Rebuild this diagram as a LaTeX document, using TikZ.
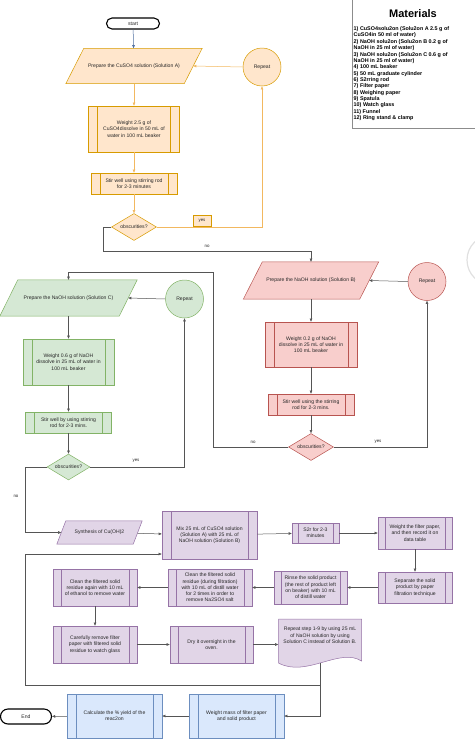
\documentclass[tikz,border=0pt]{standalone}
\usepackage{fontspec}
\setmainfont{Liberation Sans}
\usetikzlibrary{shapes.geometric,shapes.misc,arrows.meta,backgrounds}
\definecolor{oF}{HTML}{FFE6CC}\definecolor{oD}{HTML}{D79B00}\definecolor{oL}{HTML}{F2B860}
\definecolor{pF}{HTML}{F8CECC}\definecolor{pD}{HTML}{B85450}
\definecolor{gF}{HTML}{D5E8D4}\definecolor{gD}{HTML}{82B366}
\definecolor{uF}{HTML}{E1D5E7}\definecolor{uD}{HTML}{9673A6}
\definecolor{bF}{HTML}{DAE8FC}\definecolor{bD}{HTML}{6C8EBF}
\definecolor{lnG}{HTML}{555555}\definecolor{stB}{HTML}{4F6F9F}
\tikzset{
  txt/.style={font=\fontsize{5.1}{6.3}\selectfont, align=center, inner sep=1pt, text=black!85},
  proc/.style 2 args={rectangle, txt, fill=#1F, draw=#1D, line width=0.5pt,
    path picture={\draw[#1D, line width=0.5pt]
      ([xshift=#2]path picture bounding box.north west) -- ([xshift=#2]path picture bounding box.south west)
      ([xshift=-#2]path picture bounding box.north east) -- ([xshift=-#2]path picture bounding box.south east);}},
  para/.style={rectangle, txt},
  rep/.style={circle, txt, fill=#1F, draw=#1D, line width=0.5pt, minimum size=38pt},
  dec/.style={diamond, aspect=1.7, txt, inner sep=0pt, fill=#1F, draw=#1D, line width=0.5pt,
    minimum width=45pt, minimum height=27pt},
  term/.style={rounded rectangle, txt, draw=black, line width=1.1pt, fill=white},
  cn/.style={draw=#1, line width=0.5pt, -{Triangle[length=3.2pt,width=2.6pt,fill=#1]}},
  cn/.default=lnG,
  lab/.style={txt, font=\fontsize{4.4}{5}\selectfont},
}
% parallelogram drawn behind a named node: node, half slant, colour prefix
\newcommand\parashape[3]{\begin{scope}[on background layer]
  \draw[fill=#3F, draw=#3D, line width=0.5pt] ([xshift=#2]#1.north west) -- ([xshift=#2]#1.north east)
    -- ([xshift=-#2]#1.south east) -- ([xshift=-#2]#1.south west) -- cycle;\end{scope}}
\begin{document}
\begin{tikzpicture}[x=1pt,y=-1pt]
\useasboundingbox (0,0) rectangle (474,739);

% screenshot artifact at right edge
\draw[black!12, line width=1.2pt] (492,260) circle (25pt);

% Materials
\draw[black!45, line width=0.6pt] (352,-2) rectangle (477,128);
\node[font=\bfseries\fontsize{11}{12}\selectfont] (mt) at (413,14) {Materials};
\node[anchor=north west, inner sep=0pt, align=left, font=\bfseries\fontsize{5.4}{6.35}\selectfont] (ml) at (353.5,26.5)
{1) CuSO4solu2on (Solu2on A 2.5 g of\\CuSO4in 50 ml of water)\\2) NaOH solu2on (Solu2on B 0.2 g of\\NaOH in 25 ml of water)\\3) NaOH solu2on (Solu2on C 0.6 g of\\NaOH in 25 ml of water)\\4) 100 mL beaker\\5) 50 mL graduate cylinder\\6) S2rring rod\\7) Filter paper\\8) Weighing paper\\9) Spatula\\10) Watch glass\\11) Funnel\\12) Ring stand \& clamp};

% ---------- nodes
\node[term, minimum width=55pt, minimum height=11pt] (start) at (133,23.5) {start};
\node[para, minimum width=118pt, minimum height=35pt] (pA) at (134,66) {Prepare the CuSO4 solution (Solution A)};
\parashape{pA}{9pt}{o}
\node[rep=o] (rA) at (262,67) {Repeat};
\node[proc={o}{9pt}, minimum width=91pt, minimum height=46pt] (wA) at (134,129) {Weight 2.5 g of\\CuSO4dissolve in 50 mL of\\water in 100 mL beaker};
\node[proc={o}{9pt}, minimum width=86pt, minimum height=21pt] (sA) at (134,183.5) {Stir well using stirring rod\\for 2-3 minutes};
\node[dec=o] (dA) at (134,227) {obscurities?};

\node[para, minimum width=116pt, minimum height=37pt] (pB) at (311,280.5) {Prepare the NaOH solution (Solution B)};
\parashape{pB}{9.5pt}{p}
\node[rep=p] (rB) at (427,281.5) {Repeat};
\node[proc={p}{9pt}, minimum width=92pt, minimum height=45pt] (wB) at (311,344.5) {Weight 0.2 g of NaOH\\dissolve in 25 mL of water in\\100 mL beaker};
\node[proc={p}{9pt}, minimum width=86pt, minimum height=21pt] (sB) at (311,404.5) {Stir well using the stirring\\rod for 2-3 mins.};
\node[dec=p] (dB) at (311,447) {obscurities?};

\node[para, minimum width=119pt, minimum height=36pt] (pC) at (68.5,298) {Prepare the NaOH solution (Solution C)};
\parashape{pC}{9pt}{g}
\node[rep=g] (rC) at (184.5,299) {Repeat};
\node[proc={g}{9pt}, minimum width=91pt, minimum height=46pt] (wC) at (68.5,362) {Weight 0.6 g of NaOH\\dissolve in 25 mL of water in\\100 mL beaker};
\node[proc={g}{9pt}, minimum width=86pt, minimum height=21pt] (sC) at (68.5,422.5) {Stir well by using stirring\\rod for 2-3 mins.};
\node[dec=g, minimum width=43pt, minimum height=26pt] (dC) at (68.5,467) {obscurities?};

% ---------- connectors A
\draw[cn=stB] (start) -- (pA);
\draw[cn=oL] (pA) -- (wA);
\draw[cn=oL] (wA) -- (sA);
\draw[cn=oL] (sA) -- (dA);
\draw[cn=oL] (dA.east) -| (rA.south);
\draw[cn=oL] (rA.west) -- (pA.east);
\node[txt, fill=oF, draw=oD, line width=0.8pt, minimum width=18pt, minimum height=11pt, font=\fontsize{4.4}{5}\selectfont] (yA) at (202,221) {yes};
\draw[cn] (dA.west) -| (103,251) -| (pB.north);
\node[lab] (nA) at (207,246.5) {no};

% ---------- connectors B
\draw[cn] (pB) -- (wB);
\draw[cn] (wB) -- (sB);
\draw[cn] (sB) -- (dB);
\draw[cn] (dB.east) -| (rB.south);
\draw[cn] (rB.west) -- (pB.east);
\node[lab] (yB) at (378,442) {yes};
\draw[cn] (dB.west) -| (213,272) -| (pC.north);
\node[lab] (nB) at (253,442) {no};

% ---------- connectors C
\draw[cn] (pC) -- (wC);
\draw[cn] (wC) -- (sC);
\draw[cn] (sC) -- (dC);
\draw[cn] (dC.east) -| (rC.south);
\draw[cn] (rC.west) -- (pC.east);
\node[lab] (yC) at (136,461) {yes};
\node[lab] (nC) at (16,496) {no};

% ---------- Synthesis (purple)
\node[para, minimum width=76pt, minimum height=23pt] (syn) at (99.5,532.5) {Synthesis of Cu(OH)2};
\parashape{syn}{4.5pt}{u}
\coordinate (cno) at (25,532.5);
\draw[cn] (dC.west) -| (cno) -- (syn.west);

\node[proc={u}{9pt}, minimum width=95pt, minimum height=48pt] (mix) at (209.5,535) {Mix 25 mL of CuSO4 solution\\(Solution A) with 25 mL of\\NaOH solution (Solution B)};
\node[proc={u}{6pt}, minimum width=47pt, minimum height=20pt] (s2r) at (315.5,533) {S2r for 2-3\\minutes};
\node[proc={u}{7pt}, minimum width=74pt, minimum height=32pt] (wf) at (415,533) {Weight the filter paper,\\and then record it on\\data table};
\node[proc={u}{7pt}, minimum width=74pt, minimum height=31pt] (sep) at (415,587.5) {Separate the solid\\product by paper\\filtration technique};
\node[proc={u}{7pt}, minimum width=73pt, minimum height=33pt] (rin) at (310.5,587.5) {Rinse the solid product\\(the rest of product left\\on beaker) with 10 mL\\of distill water};
\node[proc={u}{8pt}, minimum width=84pt, minimum height=37pt] (cl1) at (210,587.5) {Clean the filtered solid\\residue (during filtration)\\with 10 mL of distill water\\for 2 times in order to\\remove Na2SO4 salt};
\node[proc={u}{8pt}, minimum width=84pt, minimum height=37pt] (cl2) at (95,587.5) {Clean the filtered solid\\residue again with 10 mL\\of ethanol to remove water};
\node[proc={u}{8pt}, minimum width=84pt, minimum height=37pt] (care) at (95,644.5) {Carefully remove filter\\paper with filtered solid\\residue to watch glass};
\node[proc={u}{8pt}, minimum width=83pt, minimum height=37pt] (dry) at (211.5,644.5) {Dry it overnight in the\\oven.};

% document shape
\draw[fill=uF, draw=uD, line width=0.5pt] (278.5,663) -- (278.5,619) -- (361.5,619) -- (361.5,661)
  .. controls (340,647) and (306,678) .. (278.5,663) -- cycle;
\node[txt, minimum width=83pt, minimum height=44pt] (doc) at (320,641) {Repeat step 1-9 by using 25 mL\\of NaOH solution by using\\Solution C instead of Solution B.\\[5pt]};

\draw[cn] (syn) -- (mix);
\draw[cn] (mix) -- (s2r);
\draw[cn] (s2r) -- (wf);
\draw[cn] (wf) -- (sep);
\draw[cn] (sep) -- (rin);
\draw[cn] (rin) -- (cl1);
\draw[cn] (cl1) -- (cl2);
\draw[cn] (cl2) -- (care);
\draw[cn] (care) -- (dry);
\draw[cn] (dry.east) -- (dry.east -| doc.west);

% ---------- final (blue)
\node[proc={b}{9pt}, minimum width=95pt, minimum height=44pt] (wm) at (236.5,716) {Weight mass of filter paper\\and solid product};
\node[proc={b}{9pt}, minimum width=95pt, minimum height=44pt] (calc) at (114.5,716) {Calculate the \% yield of the\\reac2on};
\node[term, minimum width=53pt, minimum height=15pt] (end) at (26,716.5) {End};

\coordinate (lp) at (25,685);
\coordinate (mlp) at (25,554);
\draw[cn] (doc.south) |- (wm.east);
\draw[cn] (doc.south |- lp) -- (lp) -- (mlp) -- (mlp -| mix.west);
\draw[cn] (wm) -- (calc);
\draw[cn] (calc) -- (end);
\end{tikzpicture}
\end{document}
